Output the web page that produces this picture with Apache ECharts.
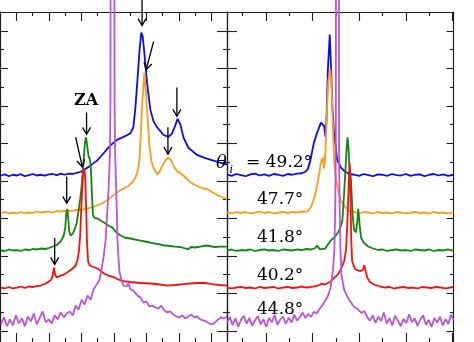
<!DOCTYPE html>
<html>
<head>
<meta charset="utf-8">
<script src="https://cdn.jsdelivr.net/npm/echarts@6.0.0/dist/echarts.min.js"></script>
<style>
  html, body { margin: 0; padding: 0; background: #fff; }
  #chart { width: 474px; height: 342px; }
</style>
</head>
<body>
<div id="chart"></div>
<script>
// Stacked spectra (waterfall): each trace is stored as [shift, intensity above its own baseline].
// Wide-range panel (left)
const blueWide = [[-9.4,-0.1],[-7,0.2],[-4.5,-0.3],[-2.1,0.1],[0.4,-0.1],[2.8,0.25],[5.3,-0.3],[7.7,0],[10.2,0.3],[12.6,-0.1],[15.1,0.1],[17.5,-0.15],[20,0.2],[22.4,0.3],[24.9,0],[27.3,0.4],[29.8,0.1],[32.2,0.4],[34.7,0.3],[37.1,0.6],[39.6,0.9],[42,1.5],[44.5,2.2],[46.9,3.0],[49.4,3.8],[51.8,4.9],[54.2,6.1],[56.7,7.4],[59.1,8.4],[61,9.1],[62.8,9.6],[65.9,10.2],[68.3,10.7],[70.2,11.2],[72,12.8],[73.2,18],[74.4,25],[75.7,33],[76.8,38],[77.6,37.2],[78.4,34],[80.4,24.5],[82.4,17.4],[84.4,14.3],[86.5,12.8],[90.5,10.7],[93.6,10.2],[95.7,11.1],[97.7,13.2],[99.1,15],[100.8,13.6],[102.8,10],[105.8,7.3],[111,5.4],[117.1,4.4],[123.2,3.6],[129.5,2.8]];
const orangeWide = [[-9.4,0],[-7,0.27],[-4.5,-0.13],[-2.1,0.13],[0.4,-0.13],[2.8,0.27],[5.3,0],[7.7,0.13],[10.2,0],[12.6,0.4],[15.1,0.13],[17.5,0.27],[20,0.4],[22.4,0.13],[24.9,0.53],[27.3,0.4],[29.8,0.53],[32.2,0.53],[34.7,0.66],[37.1,0.8],[39.6,0.93],[42,1.06],[44.5,1.33],[46.9,1.6],[49.4,2.0],[51.8,2.4],[54.2,2.9],[56.7,3.7],[59.1,4.5],[61.6,5.3],[64,6.1],[66.5,6.6],[68.9,7.2],[71.4,8.2],[73.2,9.5],[74.8,11.4],[75.7,14.0],[76.6,22.0],[77.5,29.9],[78.7,37.4],[79.6,32.6],[80.6,26.0],[81.8,18.0],[83,14.0],[84.2,12.2],[85.5,11.1],[86.7,10.3],[87.9,10.9],[89.7,12.5],[91.6,14.0],[93.4,14.8],[95.3,14.0],[97.1,12.2],[98.9,11.1],[100.8,10.6],[103.2,9.8],[105.7,8.7],[108.1,7.95],[111.2,7.2],[114.2,6.6],[117.3,6.4],[120.3,5.6],[123.4,4.8],[126.5,4.2],[129.5,3.7]];
const greenWide = [[-9.4,0],[-7,-0.13],[-4.5,0.27],[-2.1,0],[0.4,0.13],[2.8,-0.13],[5.3,0.27],[7.7,0.13],[10.2,0.4],[12.6,0.27],[15.1,0.53],[17.5,0.4],[20,0.66],[22.4,1.06],[24.9,1.46],[27.3,2.4],[29.2,4.0],[30.1,6.1],[30.7,9.8],[31.4,11.1],[32.0,8.2],[32.6,5.0],[33.4,4.0],[34.7,4.5],[35.9,5.6],[37.1,7.2],[38.3,10.6],[39.6,14.8],[40.5,18.8],[41.4,24.1],[42.2,28.9],[42.9,30.2],[43.7,27.5],[44.5,25.0],[45.3,24.3],[45.9,21.5],[46.5,15],[47.1,9.5],[48.1,8.7],[50,8.5],[51.8,8.0],[54.2,7.4],[56.7,6.6],[59.1,6.1],[61.6,4.8],[64,4.0],[67.1,3.4],[70.2,3.2],[73.2,2.9],[76.3,2.65],[79.3,2.4],[82.4,2.1],[85.5,1.86],[88.5,1.6],[91.6,1.33],[94.6,1.2],[97.7,1.06],[100.8,0.93],[103.8,0.53],[105.7,0.4],[107.5,0.93],[110,0.8],[113,1.06],[116.1,1.33],[119.1,1.2],[122.2,0.93],[125.2,1.06],[129.5,1.06]];
const redWide = [[-9.4,0.13],[-7,-0.13],[-4.5,0.27],[-2.1,-0.13],[0.4,0.13],[2.8,0.4],[5.3,0],[7.7,0.4],[10.2,0.27],[12.6,0.53],[15.1,0.66],[17.5,1.06],[20,1.7],[21.5,2.25],[22.4,3.3],[23.2,5.4],[23.8,3.6],[24.9,2.8],[27.3,3.3],[29.8,3.7],[32.2,4.4],[34.7,5.2],[36.5,6.0],[37.7,7.6],[38.6,10.2],[39.3,14.2],[39.9,20.8],[40.5,26.1],[41.1,30.9],[41.7,31.9],[42.3,30.0],[42.9,22.1],[43.5,11.5],[44.2,7.0],[45.1,6.0],[47.5,5.6],[50,5.2],[51.8,4.6],[54.2,3.8],[56.7,3.3],[59.8,2.9],[62.8,2.25],[65.9,1.86],[70.2,1.6],[76.3,1.33],[82.4,1.2],[88.5,0.93],[92.8,0.66],[97.7,0.8],[102.6,1.06],[106.9,1.2],[111.2,1.33],[116.1,1.33],[120.3,1.06],[125.2,0.8],[129.5,0.66]];
const purpleWide = [[-9.4,-0.8],[-7.6,1.06],[-5.7,-1.3],[-3.9,0.53],[-2.1,-1.06],[-0.2,1.6],[1.6,-0.53],[3.5,0.8],[5.3,-1.3],[7.1,1.33],[9.0,0],[10.8,2.1],[12.6,-0.8],[14.5,1.06],[16.3,2.65],[18.1,-0.27],[20,0.53],[21.8,-0.53],[23.6,1.6],[25.5,0.53],[27.3,2.4],[29.2,1.06],[31.0,2.1],[32.8,2.65],[34.7,1.6],[36.5,4.2],[38.3,3.2],[40.2,5.8],[42,4.5],[43.8,6.9],[45.7,5.8],[47.5,8.5],[49.4,9.8],[51.2,11.1],[52.4,13.8],[53.6,17.0],[54.9,21.7],[55.8,28.4],[56.7,35.0],[57.6,45.6],[57.9,58.8],[58.1,170],[59.1,175],[60.2,170],[60.4,58.8],[60.7,45.6],[61.6,32.3],[62.2,21.7],[62.8,17.0],[63.4,13.3],[64.7,10.9],[65.9,9.5],[67.7,9.3],[68.9,10.1],[70.2,8.5],[72,8.2],[73.2,8.7],[74.4,6.9],[76.3,6.4],[78.1,5.0],[79.9,5.3],[81.8,4.0],[83.6,4.2],[85.5,3.7],[87.3,3.4],[89.1,4.2],[91,2.9],[92.8,2.4],[94.6,2.65],[96.5,1.86],[98.3,1.33],[100.1,1.06],[102,1.6],[103.8,0.8],[105.7,1.33],[107.5,1.86],[109.3,1.06],[111.2,1.33],[113,0.53],[114.8,0.27],[116.7,0],[118.5,-0.53],[120.3,-0.8],[122.2,-0.27],[124,0.53],[125.9,1.06],[127.7,0.8],[129.5,1.33]];

// Narrow-range panel (right)
const blueNarrow = [[-8.3,0.2],[-7.3,-0.2],[-6.3,0.3],[-5.3,0],[-4.3,-0.3],[-3.3,0.2],[-2.3,0.4],[-1.3,-0.1],[-0.3,0.2],[0.7,-0.2],[1.7,0.3],[2.7,0.1],[3.7,-0.2],[4.7,0.3],[5.7,0.1],[6.7,0.4],[7.7,0.5],[8.5,0.9],[9.0,1.6],[9.5,3.6],[10.3,8.6],[11.0,11.3],[11.4,12.6],[11.8,14.0],[12.1,14.4],[12.5,13.1],[12.8,10.2],[13.0,14.7],[13.3,28],[13.7,37.5],[14.0,28],[14.3,17.4],[14.6,11.3],[15.3,4.1],[16.1,2.0],[17.0,0.9],[18,0.3],[19,0.1],[20,-0.2],[21,0.3],[22,0],[23,-0.3],[24,0.2],[25,0.1],[26,-0.2],[27,0.3],[28,0],[29,-0.1],[30,0.3],[31,-0.2],[32,0.1],[33,0.2],[34,-0.3],[35,0.1],[36,0.3],[37,-0.1],[38,0.2],[39,-0.2],[40.2,0.1]];
const orangeNarrow = [[-8.3,0.13],[-7.3,-0.13],[-6.3,0.27],[-5.3,0],[-4.3,0.27],[-3.3,-0.13],[-2.3,0.13],[-1.3,0.4],[-0.3,0],[0.7,0.27],[1.7,-0.13],[2.7,0.13],[3.7,0.27],[4.7,0],[5.7,0.27],[6.7,0.13],[7.7,0.4],[8.5,0.3],[9.0,0.5],[9.7,1.6],[10.3,3.7],[10.8,6.1],[11.2,8.7],[11.5,10.9],[11.8,13.5],[12.2,14.8],[12.5,11.9],[12.8,16.7],[13.1,27.3],[13.4,35.3],[13.8,38.4],[14.1,33.9],[14.4,21.9],[14.7,12.7],[15.0,9.3],[15.5,6.1],[16.1,3.2],[17.0,1.6],[17.9,0.5],[19,0.27],[20,-0.13],[21,0.27],[22,0.13],[23,-0.13],[24,0.27],[25,0],[26,0.13],[27,-0.13],[28,0.27],[29,0.13],[30,-0.13],[31,0.13],[32,0.27],[33,0],[34,0.13],[35,-0.13],[36,0.27],[37,0],[38,0.13],[39,-0.13],[40.2,0.13]];
const greenNarrow = [[-8.3,0],[-7.3,0.27],[-6.3,-0.13],[-5.3,0.13],[-4.3,0],[-3.3,0.27],[-2.3,-0.13],[-1.3,0.13],[-0.3,0.27],[0.7,0],[1.7,0.13],[2.7,-0.13],[3.7,0.27],[4.7,0.13],[5.7,0],[6.7,0.27],[7.7,0.13],[8.7,0.4],[9.7,0.27],[10.5,0.6],[11.0,1.3],[11.6,0.3],[12.7,0.5],[13.9,2.65],[14.6,3.4],[15.3,4.5],[15.9,5.8],[16.4,8.0],[16.7,13.5],[17.0,20.1],[17.3,26.8],[17.5,30.2],[17.7,27.5],[17.9,22.8],[18.25,18.8],[18.6,9.5],[18.9,5.6],[19.3,4.8],[19.6,7.7],[19.8,11.1],[20.1,6.9],[20.4,3.4],[21.0,2.1],[21.9,1.06],[23.0,0.53],[24,0.13],[25,0.27],[26,-0.13],[27,0.13],[28,0.27],[29,0],[30,0.13],[31,-0.13],[32,0.27],[33,0.13],[34,0],[35,0.27],[36,-0.13],[37,0.13],[38,0],[39,0.27],[40.2,-0.13]];
const redNarrow = [[-8.3,0.13],[-7.3,-0.13],[-6.3,0.13],[-5.3,0.27],[-4.3,0],[-3.3,0.13],[-2.3,-0.13],[-1.3,0.27],[-0.3,0],[0.7,0.13],[1.7,0.27],[2.7,-0.13],[3.7,0.13],[4.7,0.27],[5.7,0],[6.7,0.13],[7.7,0.4],[8.7,0.13],[9.7,0.27],[10.7,0.53],[11.5,0.8],[12.0,1.2],[12.5,0.9],[12.9,0.8],[13.8,1.6],[14.6,2.65],[15.5,3.7],[16.1,5.0],[16.8,7.2],[17.2,10.3],[17.5,18.3],[17.8,28.9],[17.95,33.4],[18.1,27.6],[18.3,13.0],[18.5,7.2],[19.1,5.0],[20.2,4.5],[20.8,4.8],[21.1,6.1],[21.3,6.6],[21.7,2.9],[22.3,1.6],[23.4,0.8],[24.5,0.4],[25.5,0.13],[26.5,0.27],[27.5,-0.13],[28.5,0.13],[29.5,0.27],[30.5,0],[31.5,0.13],[32.5,-0.13],[33.5,0.27],[34.5,0.13],[35.5,0],[36.5,0.27],[37.5,0.13],[38.5,-0.13],[39.5,0.13],[40.2,0.27]];
const purpleNarrow = [[-8.3,-0.5],[-7.7,1.2],[-7.1,-1.0],[-6.5,0.8],[-5.9,-1.4],[-5.3,0.4],[-4.7,1.5],[-4.1,-0.6],[-3.5,0.9],[-2.9,-1.2],[-2.3,0.3],[-1.7,1.4],[-1.1,-0.8],[-0.5,0.6],[0.1,-1.5],[0.7,0.9],[1.3,-0.2],[1.9,1.7],[2.5,-0.9],[3.1,0.5],[3.7,1.3],[4.3,-0.7],[4.9,1.0],[5.5,-0.3],[6.1,1.8],[6.7,0.2],[7.3,1.1],[7.9,2.3],[8.5,0.9],[9.1,2.0],[9.7,1.2],[10.3,2.6],[10.9,2.1],[11.5,3.3],[12.1,4.2],[12.8,5.7],[13.4,7.0],[13.9,9.1],[14.4,13.9],[14.7,19.2],[14.9,32.5],[15.0,45.7],[15.1,165],[15.6,165],[15.7,45.7],[15.8,32.5],[16.0,19.2],[16.2,12.6],[16.8,8.3],[17.4,6.8],[17.9,5.7],[18.5,4.6],[18.9,3.8],[19.4,3.6],[19.8,3.0],[20.2,3.4],[20.6,2.25],[21.1,2.8],[21.7,1.2],[22.3,0.2],[22.9,1.6],[23.5,-0.4],[24.1,1.3],[24.7,0.1],[25.3,2.4],[25.9,-0.6],[26.5,0.9],[27.1,-1.1],[27.7,1.5],[28.3,0.2],[28.9,-1.3],[29.5,0.7],[30.1,-0.5],[30.7,1.9],[31.3,-0.2],[31.9,0.8],[32.5,-1.2],[33.1,0.5],[33.7,1.6],[34.3,-0.9],[34.9,0.4],[35.5,-1.5],[36.1,0.9],[36.7,-0.3],[37.3,1.2],[37.9,-1.1],[38.5,0.6],[39.1,-0.7],[39.7,1.8],[40.2,0.3]];

// Baseline offset of each trace in the stack
const traceNames = ['blue', 'orange', 'green', 'red', 'purple'];
const traceOffsets = [41.5, 31.4, 21.4, 11.4, 2.5];
const traceColors = ['#0a0af2', '#ff9a1a', '#0f870f', '#ff0d0d', '#b856d6'];
const wideTraces = [blueWide, orangeWide, greenWide, redWide, purpleWide];
const narrowTraces = [blueNarrow, orangeNarrow, greenNarrow, redNarrow, purpleNarrow];

// Incidence angle of each trace
const angleLabels = ['49.2°', '47.7°', '41.8°', '40.2°', '44.8°'];

// Peak markers in the wide panel: [x0, y0, x1, y1] (arrow head at x1, y1)
const peakArrows = [
  [77.3, 88.5, 77.3, 81.4],
  [84.4, 77.1, 79.8, 69.6],
  [98.7, 64.9, 98.7, 57.2],
  [93.2, 54.3, 93.2, 47.1],
  [43.2, 58.2, 43.2, 52.4],
  [36.5, 51.6, 40.6, 43.7],
  [31.0, 41.1, 31.0, 34.0],
  [23.6, 24.8, 23.6, 17.7]
];

// Axis ranges and tick positions
const yRange = [-3, 85];
const yMajor = [0, 10, 20, 30, 40, 50, 60, 70, 80];
const yMinor = [5, 15, 25, 35, 45, 55, 65, 75];
const wideRange = [-10, 129.5];
const wideMajor = [0, 20, 40, 60, 80, 100, 120];
const wideMinor = [10, 30, 50, 70, 90, 110];
const narrowRange = [-8.3, 40.2];
const narrowMajor = [0, 10, 20, 30, 40];
const narrowMinor = [-5, 5, 15, 25, 35];

const AXIS_COLOR = '#1e1e1e';
const SERIF = '"DejaVu Serif", "Liberation Serif", serif';

function axisDef(grid, pos, range, ticks, len, showLine) {
  return {
    type: 'value', gridIndex: grid, position: pos,
    min: range[0], max: range[1],
    axisLine: { show: showLine, onZero: false, lineStyle: { color: AXIS_COLOR, width: 1.2 } },
    axisTick: { show: true, inside: true, length: len, customValues: ticks,
                lineStyle: { color: AXIS_COLOR, width: 1.1 } },
    minorTick: { show: false },
    axisLabel: { show: false },
    splitLine: { show: false }
  };
}

const xAxis = [
  // wide panel: bottom (data axis), bottom minor, top, top minor
  axisDef(0, 'bottom', wideRange, wideMajor, 9, true),
  axisDef(0, 'bottom', wideRange, wideMinor, 4, false),
  axisDef(0, 'top', wideRange, wideMajor, 9, true),
  axisDef(0, 'top', wideRange, wideMinor, 4, false),
  // narrow panel
  axisDef(1, 'bottom', narrowRange, narrowMajor, 9, true),
  axisDef(1, 'bottom', narrowRange, narrowMinor, 4, false),
  axisDef(1, 'top', narrowRange, narrowMajor, 9, true),
  axisDef(1, 'top', narrowRange, narrowMinor, 4, false)
];
const yAxis = [
  axisDef(0, 'left', yRange, yMajor, 8, true),
  axisDef(0, 'left', yRange, yMinor, 4, false),
  axisDef(0, 'right', yRange, yMajor, 10, true),
  axisDef(0, 'right', yRange, yMinor, 4, false),
  axisDef(1, 'left', yRange, yMajor, 10, true),
  axisDef(1, 'left', yRange, yMinor, 3, false),
  axisDef(1, 'right', yRange, yMajor, 7, true),
  axisDef(1, 'right', yRange, yMinor, 3.5, false)
];

const series = [];
traceNames.forEach((name, i) => {
  const shift = traceOffsets[i];
  [[wideTraces[i], 0], [narrowTraces[i], 4]].forEach(([pts, axisIdx]) => {
    series.push({
      type: 'line', name: name,
      xAxisIndex: axisIdx, yAxisIndex: axisIdx,
      data: pts.map(p => [p[0], p[1] + shift]),
      showSymbol: false, symbol: 'none',
      clip: name !== 'purple',
      lineStyle: { color: traceColors[i], width: 1.8 },
      z: 2 + i * 0.1,
      silent: true
    });
  });
});

// Arrow annotations (shaft plus open head)
series.push({
  type: 'custom', xAxisIndex: 0, yAxisIndex: 0, z: 10, silent: true,
  data: peakArrows,
  encode: { x: [0, 2], y: [1, 3] },
  renderItem: function (params, api) {
    const a = api.coord([api.value(0), api.value(1)]);
    const b = api.coord([api.value(2), api.value(3)]);
    const ang = Math.atan2(b[1] - a[1], b[0] - a[0]);
    const L = 8, spread = 0.52;
    const h1 = [b[0] - L * Math.cos(ang - spread), b[1] - L * Math.sin(ang - spread)];
    const h2 = [b[0] - L * Math.cos(ang + spread), b[1] - L * Math.sin(ang + spread)];
    const st = { stroke: '#000', lineWidth: 1.3, fill: null };
    return {
      type: 'group',
      children: [
        { type: 'line', shape: { x1: a[0], y1: a[1], x2: b[0], y2: b[1] }, style: st },
        { type: 'polyline', shape: { points: [h1, b, h2] }, style: st }
      ]
    };
  }
});

const labelStyle = { fontFamily: SERIF, fontSize: 17, fill: '#000' };
function angleText(x, y, text) {
  return { type: 'text', x: x, y: y, z: 20,
           style: Object.assign({ text: text, verticalAlign: 'middle', align: 'left' }, labelStyle) };
}
const graphic = [
  // theta_i = ...
  { type: 'text', x: 216, y: 163, z: 20,
    style: { text: 'θ', fontFamily: SERIF, fontSize: 18, fontStyle: 'italic', fill: '#000', verticalAlign: 'middle' } },
  { type: 'text', x: 229.5, y: 170, z: 20,
    style: { text: 'i', fontFamily: SERIF, fontSize: 11, fontStyle: 'italic', fill: '#000', verticalAlign: 'middle' } },
  angleText(246, 163, '= ' + angleLabels[0]),
  angleText(257, 199.5, angleLabels[1]),
  angleText(257, 237.5, angleLabels[2]),
  angleText(257, 275.7, angleLabels[3]),
  angleText(257, 309.5, angleLabels[4]),
  { type: 'text', x: 86, y: 100.5, z: 20,
    style: { text: 'ZA', fontFamily: SERIF, fontSize: 16, fontWeight: 'bold', fill: '#000', align: 'center', verticalAlign: 'middle' } }
];

const chart = echarts.init(document.getElementById('chart'), null, { renderer: 'canvas' });
chart.setOption({
  backgroundColor: '#ffffff',
  animation: false,
  grid: [
    { left: -1, top: 12, width: 228, height: 332 },
    { left: 227, top: 12, width: 226.5, height: 332 }
  ],
  xAxis: xAxis,
  yAxis: yAxis,
  series: series,
  graphic: graphic
});
</script>
</body>
</html>
